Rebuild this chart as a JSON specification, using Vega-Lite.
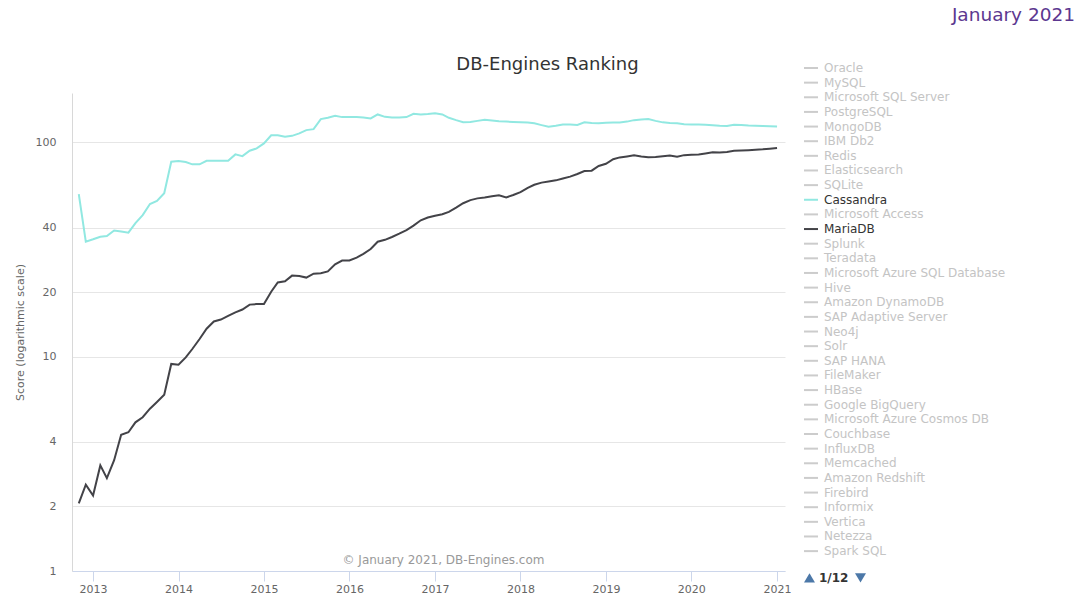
{
  "$schema": "https://vega.github.io/schema/vega-lite/v6.json",
  "width": 713,
  "height": 478,
  "autosize": {"type": "none"},
  "padding": {"left": 72, "top": 93, "right": 295, "bottom": 34},
  "background": "white",
  "title": {"text": "January 2021", "anchor": "end", "frame": "group", "dx": 290, "offset": 31, "fontSize": 18.5, "fontWeight": "normal", "color": "#5c3790", "font": "DejaVu Sans"},
  "config": {"view": {"stroke": null}, "font": "DejaVu Sans"},
  "data": {"values": [
    {"d":"2012-11-01","db":"Cassandra","s":57.3},{"d":"2012-12-01","db":"Cassandra","s":34.4},
    {"d":"2013-01-01","db":"Cassandra","s":35.3},{"d":"2013-02-01","db":"Cassandra","s":36.3},{"d":"2013-03-01","db":"Cassandra","s":36.6},{"d":"2013-04-01","db":"Cassandra","s":38.8},{"d":"2013-05-01","db":"Cassandra","s":38.4},{"d":"2013-06-01","db":"Cassandra","s":37.9},{"d":"2013-07-01","db":"Cassandra","s":42.0},{"d":"2013-08-01","db":"Cassandra","s":45.8},{"d":"2013-09-01","db":"Cassandra","s":51.6},{"d":"2013-10-01","db":"Cassandra","s":53.3},{"d":"2013-11-01","db":"Cassandra","s":57.9},{"d":"2013-12-01","db":"Cassandra","s":81.2},
    {"d":"2014-01-01","db":"Cassandra","s":81.8},{"d":"2014-02-01","db":"Cassandra","s":81.0},{"d":"2014-03-01","db":"Cassandra","s":79.0},{"d":"2014-04-01","db":"Cassandra","s":79.0},{"d":"2014-05-01","db":"Cassandra","s":82.1},{"d":"2014-06-01","db":"Cassandra","s":82.1},{"d":"2014-07-01","db":"Cassandra","s":82.1},{"d":"2014-08-01","db":"Cassandra","s":82.1},{"d":"2014-09-01","db":"Cassandra","s":87.9},{"d":"2014-10-01","db":"Cassandra","s":86.3},{"d":"2014-11-01","db":"Cassandra","s":91.4},{"d":"2014-12-01","db":"Cassandra","s":93.7},
    {"d":"2015-01-01","db":"Cassandra","s":98.9},{"d":"2015-02-01","db":"Cassandra","s":107.9},{"d":"2015-03-01","db":"Cassandra","s":107.9},{"d":"2015-04-01","db":"Cassandra","s":106.2},{"d":"2015-05-01","db":"Cassandra","s":107.3},{"d":"2015-06-01","db":"Cassandra","s":110.1},{"d":"2015-07-01","db":"Cassandra","s":114.1},{"d":"2015-08-01","db":"Cassandra","s":115.3},{"d":"2015-09-01","db":"Cassandra","s":128.4},{"d":"2015-10-01","db":"Cassandra","s":130.2},{"d":"2015-11-01","db":"Cassandra","s":133.0},{"d":"2015-12-01","db":"Cassandra","s":131.2},
    {"d":"2016-01-01","db":"Cassandra","s":131.5},{"d":"2016-02-01","db":"Cassandra","s":131.5},{"d":"2016-03-01","db":"Cassandra","s":130.8},{"d":"2016-04-01","db":"Cassandra","s":129.4},{"d":"2016-05-01","db":"Cassandra","s":135.0},{"d":"2016-06-01","db":"Cassandra","s":131.6},{"d":"2016-07-01","db":"Cassandra","s":130.8},{"d":"2016-08-01","db":"Cassandra","s":130.8},{"d":"2016-09-01","db":"Cassandra","s":131.2},{"d":"2016-10-01","db":"Cassandra","s":135.9},{"d":"2016-11-01","db":"Cassandra","s":135.0},{"d":"2016-12-01","db":"Cassandra","s":135.5},
    {"d":"2017-01-01","db":"Cassandra","s":136.9},{"d":"2017-02-01","db":"Cassandra","s":135.0},{"d":"2017-03-01","db":"Cassandra","s":130.2},{"d":"2017-04-01","db":"Cassandra","s":127.0},{"d":"2017-05-01","db":"Cassandra","s":124.3},{"d":"2017-06-01","db":"Cassandra","s":124.5},{"d":"2017-07-01","db":"Cassandra","s":126.0},{"d":"2017-08-01","db":"Cassandra","s":127.4},{"d":"2017-09-01","db":"Cassandra","s":126.5},{"d":"2017-10-01","db":"Cassandra","s":125.6},{"d":"2017-11-01","db":"Cassandra","s":125.0},{"d":"2017-12-01","db":"Cassandra","s":124.5},
    {"d":"2018-01-01","db":"Cassandra","s":124.1},{"d":"2018-02-01","db":"Cassandra","s":123.9},{"d":"2018-03-01","db":"Cassandra","s":122.7},{"d":"2018-04-01","db":"Cassandra","s":120.4},{"d":"2018-05-01","db":"Cassandra","s":118.4},{"d":"2018-06-01","db":"Cassandra","s":119.5},{"d":"2018-07-01","db":"Cassandra","s":121.2},{"d":"2018-08-01","db":"Cassandra","s":121.2},{"d":"2018-09-01","db":"Cassandra","s":120.5},{"d":"2018-10-01","db":"Cassandra","s":124.0},{"d":"2018-11-01","db":"Cassandra","s":123.0},{"d":"2018-12-01","db":"Cassandra","s":122.8},
    {"d":"2019-01-01","db":"Cassandra","s":123.5},{"d":"2019-02-01","db":"Cassandra","s":123.9},{"d":"2019-03-01","db":"Cassandra","s":123.9},{"d":"2019-04-01","db":"Cassandra","s":125.0},{"d":"2019-05-01","db":"Cassandra","s":127.0},{"d":"2019-06-01","db":"Cassandra","s":127.8},{"d":"2019-07-01","db":"Cassandra","s":128.4},{"d":"2019-08-01","db":"Cassandra","s":126.0},{"d":"2019-09-01","db":"Cassandra","s":124.0},{"d":"2019-10-01","db":"Cassandra","s":123.3},{"d":"2019-11-01","db":"Cassandra","s":122.8},{"d":"2019-12-01","db":"Cassandra","s":121.5},
    {"d":"2020-01-01","db":"Cassandra","s":121.3},{"d":"2020-02-01","db":"Cassandra","s":121.3},{"d":"2020-03-01","db":"Cassandra","s":120.8},{"d":"2020-04-01","db":"Cassandra","s":120.3},{"d":"2020-05-01","db":"Cassandra","s":119.6},{"d":"2020-06-01","db":"Cassandra","s":119.4},{"d":"2020-07-01","db":"Cassandra","s":121.0},{"d":"2020-08-01","db":"Cassandra","s":120.4},{"d":"2020-09-01","db":"Cassandra","s":119.9},{"d":"2020-10-01","db":"Cassandra","s":119.7},{"d":"2020-11-01","db":"Cassandra","s":119.2},{"d":"2020-12-01","db":"Cassandra","s":118.9},
    {"d":"2021-01-01","db":"Cassandra","s":118.6},
    {"d":"2012-11-01","db":"MariaDB","s":2.07},{"d":"2012-12-01","db":"MariaDB","s":2.53},
    {"d":"2013-01-01","db":"MariaDB","s":2.25},{"d":"2013-02-01","db":"MariaDB","s":3.11},{"d":"2013-03-01","db":"MariaDB","s":2.71},{"d":"2013-04-01","db":"MariaDB","s":3.29},{"d":"2013-05-01","db":"MariaDB","s":4.32},{"d":"2013-06-01","db":"MariaDB","s":4.44},{"d":"2013-07-01","db":"MariaDB","s":4.94},{"d":"2013-08-01","db":"MariaDB","s":5.22},{"d":"2013-09-01","db":"MariaDB","s":5.72},{"d":"2013-10-01","db":"MariaDB","s":6.15},{"d":"2013-11-01","db":"MariaDB","s":6.65},{"d":"2013-12-01","db":"MariaDB","s":9.25},
    {"d":"2014-01-01","db":"MariaDB","s":9.18},{"d":"2014-02-01","db":"MariaDB","s":9.93},{"d":"2014-03-01","db":"MariaDB","s":10.86},{"d":"2014-04-01","db":"MariaDB","s":12.09},{"d":"2014-05-01","db":"MariaDB","s":13.5},{"d":"2014-06-01","db":"MariaDB","s":14.6},{"d":"2014-07-01","db":"MariaDB","s":14.9},{"d":"2014-08-01","db":"MariaDB","s":15.5},{"d":"2014-09-01","db":"MariaDB","s":16.1},{"d":"2014-10-01","db":"MariaDB","s":16.6},{"d":"2014-11-01","db":"MariaDB","s":17.5},{"d":"2014-12-01","db":"MariaDB","s":17.6},
    {"d":"2015-01-01","db":"MariaDB","s":17.6},{"d":"2015-02-01","db":"MariaDB","s":20.1},{"d":"2015-03-01","db":"MariaDB","s":22.2},{"d":"2015-04-01","db":"MariaDB","s":22.5},{"d":"2015-05-01","db":"MariaDB","s":23.9},{"d":"2015-06-01","db":"MariaDB","s":23.8},{"d":"2015-07-01","db":"MariaDB","s":23.4},{"d":"2015-08-01","db":"MariaDB","s":24.4},{"d":"2015-09-01","db":"MariaDB","s":24.5},{"d":"2015-10-01","db":"MariaDB","s":25.0},{"d":"2015-11-01","db":"MariaDB","s":27.0},{"d":"2015-12-01","db":"MariaDB","s":28.1},
    {"d":"2016-01-01","db":"MariaDB","s":28.1},{"d":"2016-02-01","db":"MariaDB","s":29.0},{"d":"2016-03-01","db":"MariaDB","s":30.2},{"d":"2016-04-01","db":"MariaDB","s":31.8},{"d":"2016-05-01","db":"MariaDB","s":34.4},{"d":"2016-06-01","db":"MariaDB","s":35.1},{"d":"2016-07-01","db":"MariaDB","s":36.2},{"d":"2016-08-01","db":"MariaDB","s":37.5},{"d":"2016-09-01","db":"MariaDB","s":39.0},{"d":"2016-10-01","db":"MariaDB","s":40.9},{"d":"2016-11-01","db":"MariaDB","s":43.3},{"d":"2016-12-01","db":"MariaDB","s":44.6},
    {"d":"2017-01-01","db":"MariaDB","s":45.5},{"d":"2017-02-01","db":"MariaDB","s":46.2},{"d":"2017-03-01","db":"MariaDB","s":47.4},{"d":"2017-04-01","db":"MariaDB","s":49.6},{"d":"2017-05-01","db":"MariaDB","s":52.0},{"d":"2017-06-01","db":"MariaDB","s":53.8},{"d":"2017-07-01","db":"MariaDB","s":54.8},{"d":"2017-08-01","db":"MariaDB","s":55.3},{"d":"2017-09-01","db":"MariaDB","s":56.0},{"d":"2017-10-01","db":"MariaDB","s":56.7},{"d":"2017-11-01","db":"MariaDB","s":55.4},{"d":"2017-12-01","db":"MariaDB","s":56.8},
    {"d":"2018-01-01","db":"MariaDB","s":58.6},{"d":"2018-02-01","db":"MariaDB","s":61.4},{"d":"2018-03-01","db":"MariaDB","s":63.4},{"d":"2018-04-01","db":"MariaDB","s":64.9},{"d":"2018-05-01","db":"MariaDB","s":65.7},{"d":"2018-06-01","db":"MariaDB","s":66.5},{"d":"2018-07-01","db":"MariaDB","s":67.8},{"d":"2018-08-01","db":"MariaDB","s":69.2},{"d":"2018-09-01","db":"MariaDB","s":71.2},{"d":"2018-10-01","db":"MariaDB","s":73.5},{"d":"2018-11-01","db":"MariaDB","s":73.8},{"d":"2018-12-01","db":"MariaDB","s":77.6},
    {"d":"2019-01-01","db":"MariaDB","s":79.5},{"d":"2019-02-01","db":"MariaDB","s":83.5},{"d":"2019-03-01","db":"MariaDB","s":85.1},{"d":"2019-04-01","db":"MariaDB","s":86.0},{"d":"2019-05-01","db":"MariaDB","s":87.0},{"d":"2019-06-01","db":"MariaDB","s":86.0},{"d":"2019-07-01","db":"MariaDB","s":85.3},{"d":"2019-08-01","db":"MariaDB","s":85.4},{"d":"2019-09-01","db":"MariaDB","s":86.2},{"d":"2019-10-01","db":"MariaDB","s":86.8},{"d":"2019-11-01","db":"MariaDB","s":85.8},{"d":"2019-12-01","db":"MariaDB","s":87.2},
    {"d":"2020-01-01","db":"MariaDB","s":87.5},{"d":"2020-02-01","db":"MariaDB","s":87.8},{"d":"2020-03-01","db":"MariaDB","s":88.8},{"d":"2020-04-01","db":"MariaDB","s":90.0},{"d":"2020-05-01","db":"MariaDB","s":89.8},{"d":"2020-06-01","db":"MariaDB","s":90.3},{"d":"2020-07-01","db":"MariaDB","s":91.3},{"d":"2020-08-01","db":"MariaDB","s":91.6},{"d":"2020-09-01","db":"MariaDB","s":91.9},{"d":"2020-10-01","db":"MariaDB","s":92.3},{"d":"2020-11-01","db":"MariaDB","s":92.8},{"d":"2020-12-01","db":"MariaDB","s":93.5},
    {"d":"2021-01-01","db":"MariaDB","s":94.2}
  ]},
  "encoding": {
    "y": {
      "field": "s", "type": "quantitative",
      "scale": {"type": "log", "domain": [1, 170], "nice": false},
      "axis": {
        "values": [1, 2, 4, 10, 20, 40, 100], "format": "d",
        "title": "Score (logarithmic scale)", "titleFontSize": 11, "titleFontWeight": "normal", "titleColor": "#666666", "titlePadding": 10,
        "grid": true, "gridColor": "#e6e6e6", "gridWidth": 1,
        "domain": true, "domainColor": "#d8d8d8",
        "ticks": false, "tickSize": 0, "labelPadding": 16,
        "labelColor": "#666666", "labelFontSize": 11
      }
    }
  },
  "layer": [
    {
      "mark": {"type": "line", "strokeWidth": 2},
      "encoding": {
        "x": {
          "field": "d", "type": "temporal",
          "scale": {"type": "utc", "domain": [{"year": 2012, "month": 10, "date": 3, "utc": true}, {"year": 2021, "month": 2, "date": 4, "utc": true}]},
          "axis": {
            "orient": "bottom",
            "values": [{"year": 2013, "utc": true}, {"year": 2014, "utc": true}, {"year": 2015, "utc": true}, {"year": 2016, "utc": true}, {"year": 2017, "utc": true}, {"year": 2018, "utc": true}, {"year": 2019, "utc": true}, {"year": 2020, "utc": true}, {"year": 2021, "utc": true}],
            "format": "%Y", "labelFlush": false, "labelOverlap": false,
            "grid": false, "domainColor": "#ccd6eb", "tickColor": "#ccd6eb", "tickSize": 10, "labelPadding": 2,
            "labelColor": "#666666", "labelFontSize": 11,
            "title": "© January 2021, DB-Engines.com", "titleX": 371, "titleY": -12, "titleBaseline": "middle", "titleAlign": "center",
            "titleColor": "#999999", "titleFontSize": 12, "titleFontWeight": "normal"
          }
        },
        "color": {
          "field": "db", "type": "nominal",
          "scale": {
            "domain": ["Oracle","MySQL","Microsoft SQL Server","PostgreSQL","MongoDB","IBM Db2","Redis","Elasticsearch","SQLite","Cassandra","Microsoft Access","MariaDB","Splunk","Teradata","Microsoft Azure SQL Database","Hive","Amazon DynamoDB","SAP Adaptive Server","Neo4j","Solr","SAP HANA","FileMaker","HBase","Google BigQuery","Microsoft Azure Cosmos DB","Couchbase","InfluxDB","Memcached","Amazon Redshift","Firebird","Informix","Vertica","Netezza","Spark SQL"],
            "range": ["#cccccc","#cccccc","#cccccc","#cccccc","#cccccc","#cccccc","#cccccc","#cccccc","#cccccc","#91e8e1","#cccccc","#434348","#cccccc","#cccccc","#cccccc","#cccccc","#cccccc","#cccccc","#cccccc","#cccccc","#cccccc","#cccccc","#cccccc","#cccccc","#cccccc","#cccccc","#cccccc","#cccccc","#cccccc","#cccccc","#cccccc","#cccccc","#cccccc","#cccccc"]
          },
          "legend": {
            "orient": "none", "legendX": 731, "legendY": -33, "title": null, "padding": 0,
            "symbolType": "stroke", "symbolStrokeWidth": 2, "symbolSize": 196, "symbolLimit": 0,
            "labelFontSize": 12, "labelOffset": 5, "labelLimit": 300, "rowPadding": 0.64,
            "encode": {"labels": {"update": {"fill": {"signal": "indexof(['Cassandra','MariaDB'], datum.value) >= 0 ? '#333333' : '#c4c4c4'"}}}}
          }
        }
      }
    },
    {
      "mark": {"type": "point", "opacity": 0},
      "encoding": {
        "x": {
          "field": "d", "type": "temporal",
          "axis": {
            "orient": "top", "labels": false, "ticks": false, "domain": false, "grid": false,
            "title": "DB-Engines Ranking", "titleX": 475, "titleY": -29, "titleBaseline": "middle", "titleAlign": "center",
            "titleFontSize": 18, "titleFontWeight": "normal", "titleColor": "#333333"
          }
        }
      }
    },
    {
      "data": {"values": [{"page": "1/12"}, {"page": "next"}]},
      "mark": {"type": "point", "filled": true, "opacity": 0},
      "encoding": {
        "shape": {
          "field": "page", "type": "nominal",
          "scale": {"domain": ["1/12", "next"], "range": ["triangle-up", "triangle-down"]},
          "legend": {
            "orient": "none", "legendX": 731, "legendY": 478, "direction": "horizontal", "title": null, "padding": 0,
            "symbolSize": 120, "labelFontSize": 12, "labelFontWeight": "bold", "labelColor": "#333333",
            "labelOffset": 3, "columnPadding": 3,
            "labelExpr": "datum.value == '1/12' ? '1/12' : ''",
            "encode": {"symbols": {"update": {"fill": {"signal": "datum.value == '1/12' ? '#b0b0b0' : '#1f3f5f'"}, "strokeWidth": {"value": 0}, "opacity": {"value": 1}}}}
          }
        }
      }
    }
  ],
  "resolve": {"axis": {"x": "independent"}}
}
